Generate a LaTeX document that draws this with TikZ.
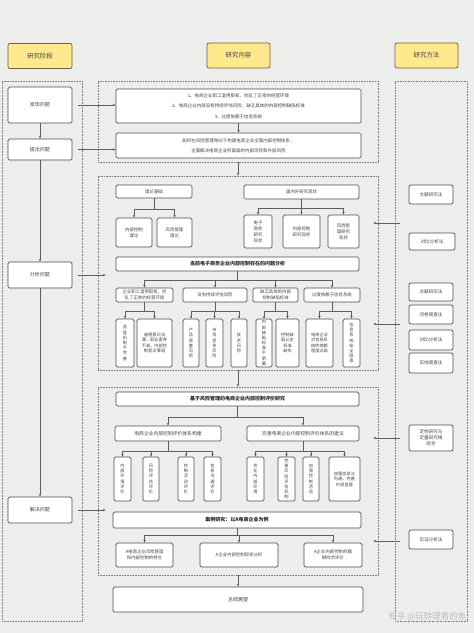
\documentclass[tikz,border=0pt]{standalone}
\usepackage{fontspec}
\setmainfont{Noto Sans CJK SC}
\usetikzlibrary{arrows.meta,calc}
\XeTeXlinebreaklocale "zh"
\XeTeXlinebreakskip=0pt plus 0.3pt
\definecolor{bg}{HTML}{EDEDEB}
\definecolor{bd}{HTML}{4E4E4E}
\definecolor{tx}{HTML}{444444}
\definecolor{lnc}{HTML}{5E5E5E}
\definecolor{dg}{HTML}{7A7A7A}
\definecolor{hy}{HTML}{FFE98C}
\definecolor{hb}{HTML}{6E6243}
\newcommand\bx[7][]{\node[box,minimum width={#4-#2},minimum height={#5-#3},#1] (#6) at ({(#2+#4)/2},{(#3+#5)/2}) {#7};}
\newcommand\dfr[5]{\node[dbox,minimum width={#4-#2},minimum height={#5-#3}] (#1) at ({(#2+#4)/2},{(#3+#5)/2}) {};}
\tikzset{
  box/.style={draw=bd, fill=white, rounded corners=1.5pt, line width=0.7pt, inner sep=0.5pt,
    font=\fontsize{4.4}{6}\selectfont, text=tx, align=center},
  vt/.style={text width=4.6pt, font=\fontsize{4.2}{5.2}\selectfont},
  bold/.style={font=\fontsize{5}{6}\selectfont\bfseries, text=black!85},
  stg/.style={font=\fontsize{5}{6}\selectfont},
  mt/.style={font=\fontsize{4.6}{5.8}\selectfont, rounded corners=2pt},
  dbox/.style={draw=dg, dash pattern=on 0.8pt off 0.8pt, line width=0.7pt, inner sep=0pt},
  hdr/.style={draw=hb, fill=hy, rounded corners=2pt, line width=0.8pt, inner sep=0pt,
    font=\fontsize{6.4}{8}\selectfont, text=black!75},
  arr/.style={draw=lnc, line width=0.7pt, -{Stealth[length=2.8pt,width=2.4pt]}},
  lnk/.style={draw=lnc, line width=0.7pt}
}
\begin{document}
\begin{tikzpicture}[x=1pt,y=-1pt]
\fill[bg] (0,0) rectangle (474,633);
\useasboundingbox (0,0) rectangle (474,633);
% headers
\node[hdr, minimum width=64, minimum height=25] (h1) at (40,56) {研究阶段};
\node[hdr, minimum width=63, minimum height=25] (h2) at (238.5,55.5) {研究内容};
\node[hdr, minimum width=63, minimum height=25] (h3) at (426.5,55.5) {研究方法};
% frames
\dfr{colL}{2}{81}{82}{621}
\dfr{sec1}{98}{81}{378}{162}
\dfr{sec2}{98}{176}{378}{370}
\dfr{sec3}{98}{387}{378}{575}
\dfr{colR}{395}{81}{467}{621}
% left stages
\bx[stg]{8}{87}{72}{123}{fx}{发现问题}
\bx[stg]{8}{139}{72}{160}{tc}{提出问题}
\bx[stg]{8}{262}{72}{288}{fxwt}{分析问题}
\bx[stg]{8}{497}{72}{523}{jj}{解决问题}
\draw[arr] (fx.south) -- (tc.north);
\draw[arr] (tc.south) -- (fxwt.north);
\draw[arr] (fxwt.south) -- (jj.north);
% section 1
\bx[font=\fontsize{4.5}{10.5}\selectfont]{116}{89}{361}{123}{s1a}{1、电商企业职工滥用职权，扰乱了正常的经营环境\\2、电商企业内部没有持续评估风险，缺乏具体的内部控制缺陷标准\\3、过度依赖于信息系统}
\bx[font=\fontsize{4.5}{10}\selectfont]{116}{133}{361}{158}{s1b}{如何在风险管理导向下构建电商企业全面内部控制体系，\\全面解决电商企业所面临的内部风险和外部风险}
\draw[arr] (s1a.south) -- (s1b.north);
\draw[arr] ([xshift=6]fx.east) -- (fx.east -| s1a.west);
\draw[arr] ([xshift=6]tc.east) -- (tc.east -| s1b.west);
\draw[arr] (sec1.south) -- (sec2.north);
% section 2
\bx{116}{185}{192}{198}{llj}{理论基础}
\bx{244}{185}{359}{199}{gnw}{国内外研究现状}
\bx{116}{218}{152}{247}{nbkz}{内部控制\\理论}
\bx{157}{218}{192}{247}{fxgl}{风险管理\\理论}
\bx{244}{215}{272}{248}{dzsw}{电子\\商务\\研究\\现状}
\bx{283}{215}{320}{248}{nkyj}{内部控制\\研究现状}
\bx{328}{215}{359}{248}{fxyj}{风险管\\理研究\\现状}
\foreach \c in {nbkz,fxgl} \draw[arr] (llj.south) -- ++(0,11) -| (\c.north);
\foreach \c in {dzsw,nkyj,fxyj} \draw[arr] (gnw.south) -- ++(0,9) -| (\c.north);
\bx[bold]{116}{257}{359}{271}{wtfx}{当前电子商务企业内部控制存在的问题分析}
\bx{116}{288}{173}{302}{pa}{企业职工滥用职权，扰\\乱了正常的经营环境}
\bx{183}{288}{247}{302}{pb}{没有持续评估风险}
\bx{253}{288}{298}{302}{pc}{缺乏具体的内部\\控制缺陷标准}
\bx{304}{288}{360}{302}{pd}{过度依赖于信息系统}
\foreach \c in {pa,pb,pc,pd} \draw[arr] (wtfx.south) -- ++(0,9) -| (\c.north);
\bx[vt]{116}{319}{134}{367}{a1}{监督机制不完善}
\bx[text width=28pt, font=\fontsize{4.2}{5.4}\selectfont]{137}{319}{172}{367}{a2}{道德意识淡薄，职业素养不高，内部控制意识薄弱}
\bx[vt]{183}{319}{199}{367}{b1}{产品质量风险}
\bx[vt]{206}{319}{223}{367}{b2}{市场竞争风险}
\bx[vt]{231}{319}{247}{367}{b3}{技术风险}
\bx[vt]{256}{319}{272}{367}{c1}{内部缺陷标准不明确}
\bx[text width=13pt, font=\fontsize{4.2}{5.4}\selectfont]{276}{319}{299}{367}{c2}{控制缺陷认定标准缺失}
\bx[text width=18pt, font=\fontsize{4.2}{5.4}\selectfont]{306}{319}{333}{367}{d1}{电商企业对信息系统的依赖程度过高}
\bx[vt]{343}{319}{360}{367}{d2}{信息系统安全隐患}
\foreach \c in {a1,a2} \draw[arr] (pa.south) -- ++(0,9) -| (\c.north);
\foreach \c in {b1,b2,b3} \draw[arr] (pb.south) -- ++(0,9) -| (\c.north);
\foreach \c in {c1,c2} \draw[arr] (pc.south) -- ++(0,9) -| (\c.north);
\foreach \c in {d1,d2} \draw[arr] (pd.south) -- ++(0,9) -| (\c.north);
\draw[arr] (sec2.south) -- (sec3.north);
% section 3
\bx[bold]{116}{392}{359}{406}{jyfx}{基于风险管理的电商企业内部控制评价研究}
\bx[font=\fontsize{4.8}{6}\selectfont]{115}{426}{221}{441}{gj}{电商企业内部控制评价体系构建}
\bx[font=\fontsize{4.8}{6}\selectfont]{247}{426}{359}{441}{jy}{完善电商企业内部控制评价体系的建议}
\foreach \c in {gj,jy} \draw[arr] (jyfx.south) -- ++(0,11) -| (\c.north);
\bx[vt]{114}{457}{131}{501}{e1}{内部环境评价}
\bx[vt]{143}{457}{159}{501}{e2}{风险评估评价}
\bx[vt]{178}{457}{194}{501}{e3}{控制活动评价}
\bx[vt]{204}{457}{221}{501}{e4}{信息沟通评价}
\bx[vt]{247}{457}{264}{501}{f1}{优化内部环境}
\bx[vt]{278}{457}{295}{501}{f2}{完善风险评估机制}
\bx[vt]{303}{457}{319}{501}{f3}{加强控制活动}
\bx[text width=22pt, font=\fontsize{4.2}{5.4}\selectfont]{329}{457}{360}{501}{f4}{加强信息与沟通，完善内部监督}
\foreach \c in {e1,e2,e3,e4} \draw[arr] (gj.south) -- ++(0,10) -| (\c.north);
\foreach \c in {f1,f2,f3,f4} \draw[arr] (jy.south) -- ++(0,10) -| (\c.north);
\bx[bold]{113}{512}{361}{528}{al}{案例研究：以A电商企业为例}
\bx{116}{543}{173}{567}{g1}{A电商企业风险管理\\和内部控制的特点}
\bx{200}{543}{278}{567}{g2}{A企业内部控制现状分析}
\bx{304}{543}{362}{567}{g3}{A企业内部控制的模\\糊综合评价}
\foreach \c in {g1,g2,g3} \draw[arr] (al.south) -- ++(0,7) -| (\c.north);
\bx[font=\fontsize{5}{6}\selectfont]{113}{587}{363}{612}{zj}{总结展望}
\draw[arr] (sec3.south) -- (zj.north);
% left arrows to sections
\draw[arr] ([xshift=6]fxwt.east) -- ([xshift=8]fxwt.east -| sec2.west);
\draw[arr] ([xshift=6]jj.east) -- ([xshift=8]jj.east -| sec3.west);
% methods
\bx[mt]{409}{185}{453}{204}{m1}{文献研究法}
\bx[mt]{409}{233}{455}{250}{m2}{对比分析法}
\bx[mt]{409}{283}{453}{301}{m3}{文献研究法}
\bx[mt]{409}{305}{453}{324}{m4}{问卷调查法}
\bx[mt]{409}{330}{453}{350}{m5}{对比分析法}
\bx[mt]{409}{353}{453}{373}{m6}{实地调查法}
\bx[mt]{409}{425}{453}{451}{m7}{定性研究与\\定量研究相\\结合}
\bx[mt]{409}{530}{453}{549}{m8}{实证分析法}
\coordinate (r1) at (400,223);
\coordinate (r2) at (400,324);
\coordinate (r3) at (400,438);
\coordinate (r4) at (400,541);
\draw[arr] (r1) -- ([xshift=-5]r1 -| sec2.east);
\draw[arr] (r2) -- ([xshift=-5]r2 -| sec2.east);
\draw[arr] (r3) -- ([xshift=-5]r3 -| sec3.east);
\draw[arr] (r4) -- ([xshift=-5]r4 -| sec3.east);
% watermark
\node[text=black!25, font=\fontsize{8.5}{10}\selectfont, anchor=east] (wm) at (470,617) {知乎 @玩转理看的鱼};
\end{tikzpicture}
\end{document}
